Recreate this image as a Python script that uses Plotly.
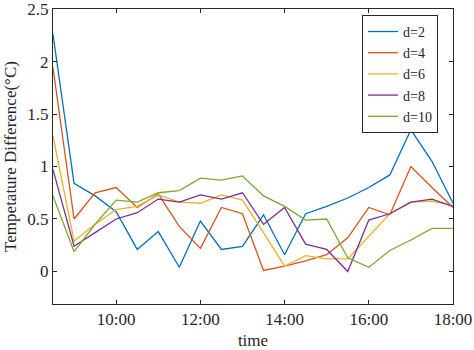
import plotly.graph_objects as go
import pandas as pd

times = ["08:30", "09:00", "09:30", "10:00", "10:30", "11:00", "11:30", "12:00", "12:30", "13:00",
         "13:30", "14:00", "14:30", "15:00", "15:30", "16:00", "16:30", "17:00", "17:30", "18:00"]

d2 = [2.26, 0.84, 0.72, 0.57, 0.21, 0.38, 0.04, 0.48, 0.21, 0.24, 0.54, 0.16, 0.55, 0.62, 0.70, 0.80, 0.92, 1.35, 1.05, 0.65]
d4 = [1.94, 0.50, 0.75, 0.80, 0.61, 0.74, 0.43, 0.22, 0.61, 0.55, 0.01, 0.05, 0.10, 0.16, 0.32, 0.61, 0.54, 1.00, 0.80, 0.61]
d6 = [1.29, 0.29, 0.45, 0.59, 0.62, 0.73, 0.66, 0.65, 0.73, 0.68, 0.37, 0.05, 0.15, 0.12, 0.12, 0.33, 0.55, 0.66, 0.67, 0.63]
d8 = [0.97, 0.24, 0.37, 0.50, 0.56, 0.69, 0.66, 0.73, 0.69, 0.75, 0.45, 0.61, 0.26, 0.21, 0.00, 0.49, 0.55, 0.66, 0.69, 0.62]
d10 = [0.72, 0.19, 0.45, 0.68, 0.66, 0.75, 0.77, 0.89, 0.87, 0.91, 0.72, 0.62, 0.49, 0.50, 0.13, 0.04, 0.20, 0.30, 0.41, 0.41]

series_names = ["d=2", "d=4", "d=6", "d=8", "d=10"]
series_values = [d2, d4, d6, d8, d10]
colors = ["#0072BD", "#D95319", "#EDB120", "#7E2F8E", "#77AC30"]

x = pd.to_datetime(["2000-01-01 " + t for t in times])

fig = go.Figure()
for name, vals, c in zip(series_names, series_values, colors):
    fig.add_trace(go.Scatter(x=x, y=vals, mode="lines", name=name,
                             line=dict(color=c, width=1.3)))

font = "Liberation Serif, Times New Roman, serif"
fig.update_layout(
    width=474, height=350,
    margin=dict(l=53, r=21, t=9, b=46, autoexpand=False),
    paper_bgcolor="white", plot_bgcolor="white",
    font=dict(family=font, size=17, color="#262626"),
    showlegend=True,
    legend=dict(x=0.7725, y=0.98, xanchor="left", yanchor="top",
                bgcolor="white", bordercolor="#262626", borderwidth=1,
                font=dict(family=font, size=14, color="#262626"),
                tracegroupgap=0, itemwidth=30),
    xaxis=dict(
        type="date",
        range=["2000-01-01 08:30", "2000-01-01 18:00"],
        tickformat="%H:%M", dtick=2 * 3600 * 1000,
        tick0="2000-01-01 10:00",
        showgrid=False, zeroline=False, automargin=False,
        showline=True, linecolor="#262626", linewidth=1, mirror="ticks",
        ticks="inside", ticklen=4, tickcolor="#262626",
        tickfont=dict(family=font, size=17),
        ticklabeloverflow="allow",
        title=dict(text="time", standoff=10, font=dict(family=font, size=17)),
    ),
    yaxis=dict(
        range=[-0.31, 2.501],
        tickvals=[0, 0.5, 1, 1.5, 2, 2.5],
        ticktext=["0", "0.5", "1", "1.5", "2", "2.5"],
        showgrid=False, zeroline=False, automargin=False,
        showline=True, linecolor="#262626", linewidth=1, mirror="ticks",
        ticks="inside", ticklen=4, tickcolor="#262626",
        tickfont=dict(family=font, size=17),
        ticklabeloverflow="allow",
        title=dict(text="Tempetature Difference(°C)", standoff=6, font=dict(family=font, size=17)),
    ),
)

fig.write_html("out.html")
